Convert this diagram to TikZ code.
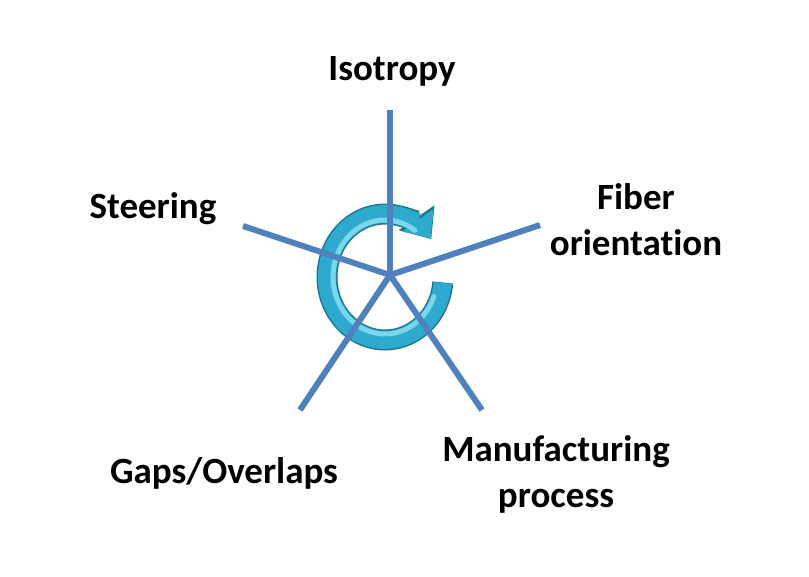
\documentclass[tikz,border=0pt]{standalone}
\usepackage{fontspec}
\setmainfont{Carlito}[Ligatures={NoCommon}]
\usetikzlibrary{arrows.meta}
\definecolor{spoke}{RGB}{79,129,189}
\definecolor{ringc}{RGB}{45,170,205}
\definecolor{ringl}{RGB}{120,215,235}
\tikzset{lab/.style={font=\fontsize{37}{46}\selectfont\bfseries,align=center},
 sp/.style={draw=spoke,line width=6pt}}
\begin{document}
\begin{tikzpicture}[x=1pt,y=-1pt]
\useasboundingbox (0,0) rectangle (809,576);
\coordinate (c) at (390,275);
\draw[ringc!70!black,line width=21pt,-{Triangle[width=42pt,length=26pt]}] (385,277) ++(5:58 and 63) arc[start angle=5,end angle=323,x radius=58,y radius=63];
\draw[ringc,line width=18pt,-{Triangle[width=37pt,length=22pt]}] (385,277) ++(5.5:58 and 63) arc[start angle=5.5,end angle=322,x radius=58,y radius=63];
\draw[ringl,line width=5pt,line cap=round] (385,277) ++(20:52 and 57) arc[start angle=20,end angle=305,x radius=52,y radius=57];
\coordinate (e1) at (390,110);
\coordinate (e2) at (540,225);
\coordinate (e3) at (482,410);
\coordinate (e4) at (300,410);
\coordinate (e5) at (243,226);
\foreach \e in {e1,e2,e3,e4,e5} \draw[sp] (c) -- (\e);
\node[lab] (i) at (392,71) {Isotropy};
\node[lab] (f) at (636,220) {Fiber\\orientation};
\node[lab] (m) at (556,474) {Manufacturing\\process};
\node[lab] (g) at (224,473) {Gaps/Overlaps};
\node[lab] (s) at (153,209) {Steering};
\end{tikzpicture}
\end{document}
